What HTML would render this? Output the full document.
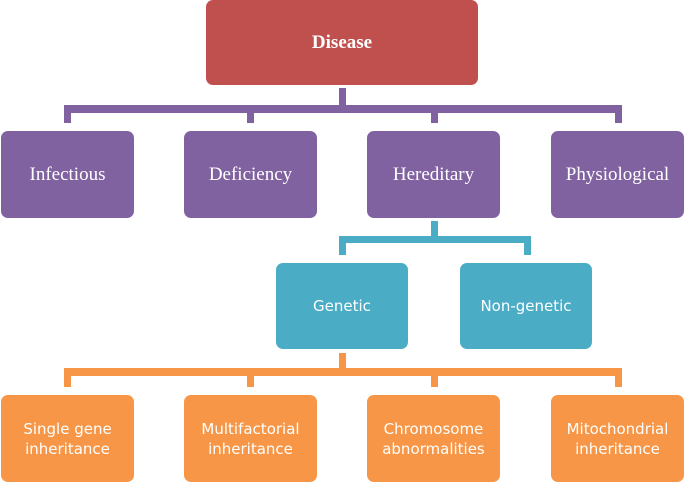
<!DOCTYPE html>
<html><head><style>
body{margin:0;width:685px;height:482px;background:#fff;position:relative;overflow:hidden}
.b{position:absolute;border-radius:7px;color:#fff;display:flex;align-items:center;justify-content:center;text-align:center;box-sizing:border-box}
.s{font-family:"Liberation Serif",serif;font-size:19px}
.n{font-family:"DejaVu Sans","Liberation Sans",sans-serif;font-size:15px;line-height:20px}
.p{background:#8062A1;top:131px;width:133px;height:87px}
.o{background:#F79646;top:395px;width:133px;height:87px}
.t{background:#4BACC6;top:263px;width:132px;height:86px}
.l{position:absolute}
</style></head><body>
<div class="b s" style="background:#C0504D;left:206px;top:0;width:272px;height:85px;font-weight:bold">Disease</div>
<div class="l" style="background:#8062A1;left:339px;top:88px;width:7px;height:20px"></div>
<div class="l" style="background:#8062A1;left:64px;top:105px;width:558px;height:8px"></div>
<div class="l" style="background:#8062A1;left:64px;top:105px;width:7px;height:18px"></div>
<div class="l" style="background:#8062A1;left:247px;top:105px;width:7px;height:18px"></div>
<div class="l" style="background:#8062A1;left:431px;top:105px;width:7px;height:18px"></div>
<div class="l" style="background:#8062A1;left:615px;top:105px;width:7px;height:18px"></div>
<div class="b s p" style="left:1px">Infectious</div>
<div class="b s p" style="left:184px">Deficiency</div>
<div class="b s p" style="left:367px">Hereditary</div>
<div class="b s p" style="left:551px">Physiological</div>
<div class="l" style="background:#4BACC6;left:431px;top:221px;width:7px;height:20px"></div>
<div class="l" style="background:#4BACC6;left:339px;top:236px;width:192px;height:7px"></div>
<div class="l" style="background:#4BACC6;left:339px;top:236px;width:7px;height:19px"></div>
<div class="l" style="background:#4BACC6;left:524px;top:236px;width:7px;height:19px"></div>
<div class="b n t" style="left:276px">Genetic</div>
<div class="b n t" style="left:460px">Non-genetic</div>
<div class="l" style="background:#F79646;left:339px;top:353px;width:7px;height:20px"></div>
<div class="l" style="background:#F79646;left:64px;top:368px;width:558px;height:8px"></div>
<div class="l" style="background:#F79646;left:64px;top:368px;width:7px;height:19px"></div>
<div class="l" style="background:#F79646;left:247px;top:368px;width:7px;height:19px"></div>
<div class="l" style="background:#F79646;left:431px;top:368px;width:7px;height:19px"></div>
<div class="l" style="background:#F79646;left:615px;top:368px;width:7px;height:19px"></div>
<div class="b n o" style="left:1px">Single gene<br>inheritance</div>
<div class="b n o" style="left:184px">Multifactorial<br>inheritance</div>
<div class="b n o" style="left:367px">Chromosome<br>abnormalities</div>
<div class="b n o" style="left:551px">Mitochondrial<br>inheritance</div>
</body></html>
